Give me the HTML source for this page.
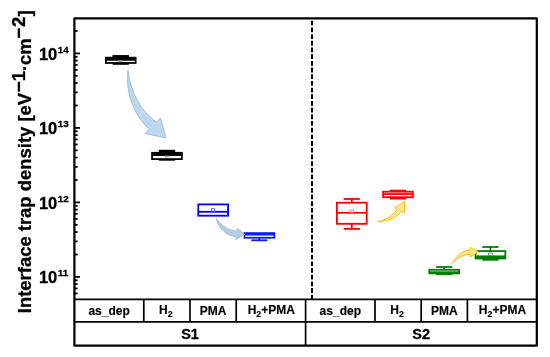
<!DOCTYPE html>
<html lang="en"><head><meta charset="utf-8"><title>Interface trap density</title>
<style>html,body{margin:0;padding:0;background:#fff}svg{display:block}text{font-family:"Liberation Sans",Arial,sans-serif;font-weight:bold;fill:#000;stroke:#000;stroke-width:0.3px}</style></head><body>
<svg width="550" height="357" viewBox="0 0 550 357">
<rect width="550" height="357" fill="#fff"/>
<line x1="312" y1="20.8" x2="312" y2="299.3" stroke="#000" stroke-width="2" stroke-dasharray="4.8 1.883"/>
<g stroke="#000" stroke-width="1.8" fill="none">
<line x1="120.75" y1="56.10" x2="120.75" y2="57.70"/>
<line x1="112.65" y1="56.10" x2="128.85" y2="56.10"/>
<line x1="120.75" y1="62.95" x2="120.75" y2="63.90"/>
<line x1="112.65" y1="63.90" x2="128.85" y2="63.90"/>
<rect x="105.85" y="57.70" width="29.80" height="5.25" fill="#fff"/>
<line x1="105.85" y1="59.60" x2="135.65" y2="59.60"/>
<rect x="105.85" y="57.70" width="29.80" height="2.80" fill="#000" stroke="none"/>
<rect x="112.65" y="55.25" width="16.20" height="2.45" fill="#000" stroke="none"/>
<rect x="119.25" y="60.70" width="3.00" height="1.00" stroke-width="0.8" stroke="#999"/>
</g>
<g stroke="#000" stroke-width="1.8" fill="none">
<line x1="166.96" y1="150.80" x2="166.96" y2="152.80"/>
<line x1="158.86" y1="150.80" x2="175.06" y2="150.80"/>
<line x1="166.96" y1="159.10" x2="166.96" y2="159.80"/>
<line x1="158.86" y1="159.80" x2="175.06" y2="159.80"/>
<rect x="152.06" y="152.80" width="29.80" height="6.30" fill="#fff"/>
<line x1="152.06" y1="154.90" x2="181.86" y2="154.90"/>
<rect x="152.06" y="152.80" width="29.80" height="3.00" fill="#000" stroke="none"/>
<rect x="158.86" y="149.90" width="16.20" height="2.90" fill="#000" stroke="none"/>
<rect x="165.46" y="156.00" width="3.00" height="1.00" stroke-width="0.8" stroke="#999"/>
</g>
<g stroke="#0000ff" stroke-width="1.8" fill="none">
<rect x="198.27" y="204.40" width="29.80" height="11.30" fill="#fff"/>
<line x1="198.27" y1="211.80" x2="228.07" y2="211.80"/>
<rect x="211.57" y="208.70" width="3.20" height="2.60" stroke-width="0.8" stroke="#5050ff"/>
</g>
<g stroke="#0c1cff" stroke-width="1.8" fill="none">
<line x1="259.38" y1="237.75" x2="259.38" y2="240.30"/>
<line x1="251.28" y1="240.30" x2="267.48" y2="240.30"/>
<rect x="244.48" y="233.10" width="29.80" height="4.65" fill="#fff"/>
<line x1="244.48" y1="234.40" x2="274.28" y2="234.40"/>
<rect x="244.48" y="233.10" width="29.80" height="2.20" fill="#0c1cff" stroke="none"/>
</g>
<g stroke="#ff0000" stroke-width="1.8" fill="none">
<line x1="351.80" y1="199.00" x2="351.80" y2="202.70"/>
<line x1="343.70" y1="199.00" x2="359.90" y2="199.00"/>
<line x1="351.80" y1="223.80" x2="351.80" y2="228.90"/>
<line x1="343.70" y1="228.90" x2="359.90" y2="228.90"/>
<rect x="336.90" y="202.70" width="29.80" height="21.10" fill="#fff"/>
<line x1="336.90" y1="212.80" x2="366.70" y2="212.80"/>
<rect x="350.10" y="210.00" width="3.40" height="2.40" stroke-width="0.8" stroke="#ff7070"/>
</g>
<g stroke="#ff0000" stroke-width="1.8" fill="none">
<line x1="398.01" y1="190.60" x2="398.01" y2="191.70"/>
<line x1="389.91" y1="190.60" x2="406.11" y2="190.60"/>
<line x1="398.01" y1="197.15" x2="398.01" y2="198.60"/>
<line x1="389.91" y1="198.60" x2="406.11" y2="198.60"/>
<rect x="383.11" y="191.70" width="29.80" height="5.45" fill="#fff"/>
<line x1="383.11" y1="194.05" x2="412.91" y2="194.05"/>
</g>
<g stroke="#008000" stroke-width="1.8" fill="none">
<line x1="444.22" y1="267.00" x2="444.22" y2="269.80"/>
<line x1="436.12" y1="267.00" x2="452.32" y2="267.00"/>
<line x1="444.22" y1="273.40" x2="444.22" y2="274.30"/>
<line x1="436.12" y1="274.30" x2="452.32" y2="274.30"/>
<rect x="429.32" y="269.80" width="29.80" height="3.60" fill="#fff"/>
<line x1="429.32" y1="272.20" x2="459.12" y2="272.20"/>
</g>
<g stroke="#008000" stroke-width="1.8" fill="none">
<line x1="490.43" y1="247.00" x2="490.43" y2="251.10"/>
<line x1="482.33" y1="247.00" x2="498.53" y2="247.00"/>
<line x1="490.43" y1="258.50" x2="490.43" y2="259.80"/>
<line x1="482.33" y1="259.80" x2="498.53" y2="259.80"/>
<rect x="475.53" y="251.10" width="29.80" height="7.40" fill="#fff"/>
<line x1="475.53" y1="256.50" x2="505.33" y2="256.50"/>
<rect x="475.53" y="255.70" width="29.80" height="2.80" fill="#008000" stroke="none"/>
<rect x="488.63" y="253.10" width="3.60" height="2.60" stroke-width="0.8" stroke="#3c9a3c"/>
</g>
<g stroke-linejoin="round" stroke-width="1">
<path fill="#bdd7ee" stroke="#9dc3e6" d="M127.9,70.4 C125.5,92 133,114 149.1,129.3 L145.1,133.6 L166,137.9 L160.4,118 L156.5,122.2 C141.5,111.5 131,94 127.9,70.4 Z"/>
<path fill="#b4cde6" stroke="#9dbfe0" d="M216.2,218.4 C218.5,228 226,235.5 236.4,237 L235.8,239.6 L244.6,234.4 L237.5,228.3 L237,231.2 C228,230.5 221,225.5 216.2,218.4 Z"/>
<path fill="#ffe699" stroke="#ffc000" stroke-width="1" d="M377.4,221.5 C385,220.5 392,216.5 396.8,209.9 L394.7,207.9 L404.3,201.4 L404.8,212.6 L401.2,211.3 C397,217.5 389,221.5 377.4,221.5 Z"/>
<path fill="#ffe699" stroke="#ffc000" stroke-width="1" d="M451.9,263.5 C455.8,257.0 462.0,250.6 470.1,249.8 L470.1,247.4 L477.9,251.5 L470.7,256.9 L470.4,254.6 C464.5,253.8 458,257.5 451.9,263.5 Z"/>
</g>
<g stroke="#000" stroke-width="1.8">
<line x1="74.4" y1="276.9" x2="80.0" y2="276.9"/>
<line x1="74.4" y1="202.4" x2="80.0" y2="202.4"/>
<line x1="74.4" y1="127.9" x2="80.0" y2="127.9"/>
<line x1="74.4" y1="53.4" x2="80.0" y2="53.4"/>
<line x1="74.4" y1="293.4" x2="77.6" y2="293.4"/>
<line x1="74.4" y1="288.4" x2="77.6" y2="288.4"/>
<line x1="74.4" y1="284.1" x2="77.6" y2="284.1"/>
<line x1="74.4" y1="280.3" x2="77.6" y2="280.3"/>
<line x1="74.4" y1="254.5" x2="77.6" y2="254.5"/>
<line x1="74.4" y1="241.4" x2="77.6" y2="241.4"/>
<line x1="74.4" y1="232.0" x2="77.6" y2="232.0"/>
<line x1="74.4" y1="224.8" x2="77.6" y2="224.8"/>
<line x1="74.4" y1="218.9" x2="77.6" y2="218.9"/>
<line x1="74.4" y1="213.9" x2="77.6" y2="213.9"/>
<line x1="74.4" y1="209.6" x2="77.6" y2="209.6"/>
<line x1="74.4" y1="205.8" x2="77.6" y2="205.8"/>
<line x1="74.4" y1="180.0" x2="77.6" y2="180.0"/>
<line x1="74.4" y1="166.9" x2="77.6" y2="166.9"/>
<line x1="74.4" y1="157.5" x2="77.6" y2="157.5"/>
<line x1="74.4" y1="150.3" x2="77.6" y2="150.3"/>
<line x1="74.4" y1="144.4" x2="77.6" y2="144.4"/>
<line x1="74.4" y1="139.4" x2="77.6" y2="139.4"/>
<line x1="74.4" y1="135.1" x2="77.6" y2="135.1"/>
<line x1="74.4" y1="131.3" x2="77.6" y2="131.3"/>
<line x1="74.4" y1="105.5" x2="77.6" y2="105.5"/>
<line x1="74.4" y1="92.4" x2="77.6" y2="92.4"/>
<line x1="74.4" y1="83.0" x2="77.6" y2="83.0"/>
<line x1="74.4" y1="75.8" x2="77.6" y2="75.8"/>
<line x1="74.4" y1="69.9" x2="77.6" y2="69.9"/>
<line x1="74.4" y1="64.9" x2="77.6" y2="64.9"/>
<line x1="74.4" y1="60.6" x2="77.6" y2="60.6"/>
<line x1="74.4" y1="56.8" x2="77.6" y2="56.8"/>
<line x1="74.4" y1="31.0" x2="77.6" y2="31.0"/>
</g>
<rect x="74.4" y="18.3" width="462.4" height="327.4" fill="none" stroke="#000" stroke-width="2.2" stroke-linejoin="round"/>
<g stroke="#000" stroke-width="1.7">
<line x1="74.4" y1="299.3" x2="536.8" y2="299.3"/>
<line x1="74.4" y1="321.9" x2="536.8" y2="321.9"/>
<line x1="143.8" y1="299.3" x2="143.8" y2="321.9"/>
<line x1="190.0" y1="299.3" x2="190.0" y2="321.9"/>
<line x1="236.2" y1="299.3" x2="236.2" y2="321.9"/>
<line x1="375.0" y1="299.3" x2="375.0" y2="321.9"/>
<line x1="421.2" y1="299.3" x2="421.2" y2="321.9"/>
<line x1="467.4" y1="299.3" x2="467.4" y2="321.9"/>
<line x1="305.6" y1="299.3" x2="305.6" y2="345.7"/>
</g>
<text x="38.9" y="283.3" font-size="16.5">10<tspan font-size="9.9" dy="-7" dx="0.6">11</tspan></text>
<text x="38.9" y="208.8" font-size="16.5">10<tspan font-size="9.9" dy="-7" dx="0.6">12</tspan></text>
<text x="38.9" y="134.3" font-size="16.5">10<tspan font-size="9.9" dy="-7" dx="0.6">13</tspan></text>
<text x="38.9" y="59.8" font-size="16.5">10<tspan font-size="9.9" dy="-7" dx="0.6">14</tspan></text>
<text x="109.1" y="314.6" font-size="12.0" style="stroke-width:0.15px" text-anchor="middle">as_dep</text>
<text x="165.9" y="314.3" font-size="12.0" style="stroke-width:0.15px" text-anchor="middle">H<tspan font-size="8.8" dy="2.6">2</tspan></text>
<text x="213.1" y="314.6" font-size="12.0" style="stroke-width:0.15px" text-anchor="middle">PMA</text>
<text x="271.3" y="314.3" font-size="12.0" style="stroke-width:0.15px" text-anchor="middle">H<tspan font-size="8.8" dy="2.6">2</tspan><tspan dy="-2.6">+PMA</tspan></text>
<text x="340.3" y="314.6" font-size="12.0" style="stroke-width:0.15px" text-anchor="middle">as_dep</text>
<text x="397.1" y="314.3" font-size="12.0" style="stroke-width:0.15px" text-anchor="middle">H<tspan font-size="8.8" dy="2.6">2</tspan></text>
<text x="444.3" y="314.6" font-size="12.0" style="stroke-width:0.15px" text-anchor="middle">PMA</text>
<text x="502.5" y="314.3" font-size="12.0" style="stroke-width:0.15px" text-anchor="middle">H<tspan font-size="8.8" dy="2.6">2</tspan><tspan dy="-2.6">+PMA</tspan></text>
<text x="190.0" y="339.2" font-size="14.5" text-anchor="middle">S1</text>
<text x="421.2" y="339.2" font-size="14.5" text-anchor="middle">S2</text>
<text id="yt" transform="translate(30.6,313.2) rotate(-90)" font-size="18.45">Interface trap density [eV<tspan dy="-5.5" dx="0.8">−1</tspan><tspan dy="5.5">·cm</tspan><tspan dy="-5.5" dx="-0.3">−</tspan><tspan dx="0.7">2</tspan><tspan dy="5.5" dx="0.7">]</tspan></text>
</svg></body></html>
